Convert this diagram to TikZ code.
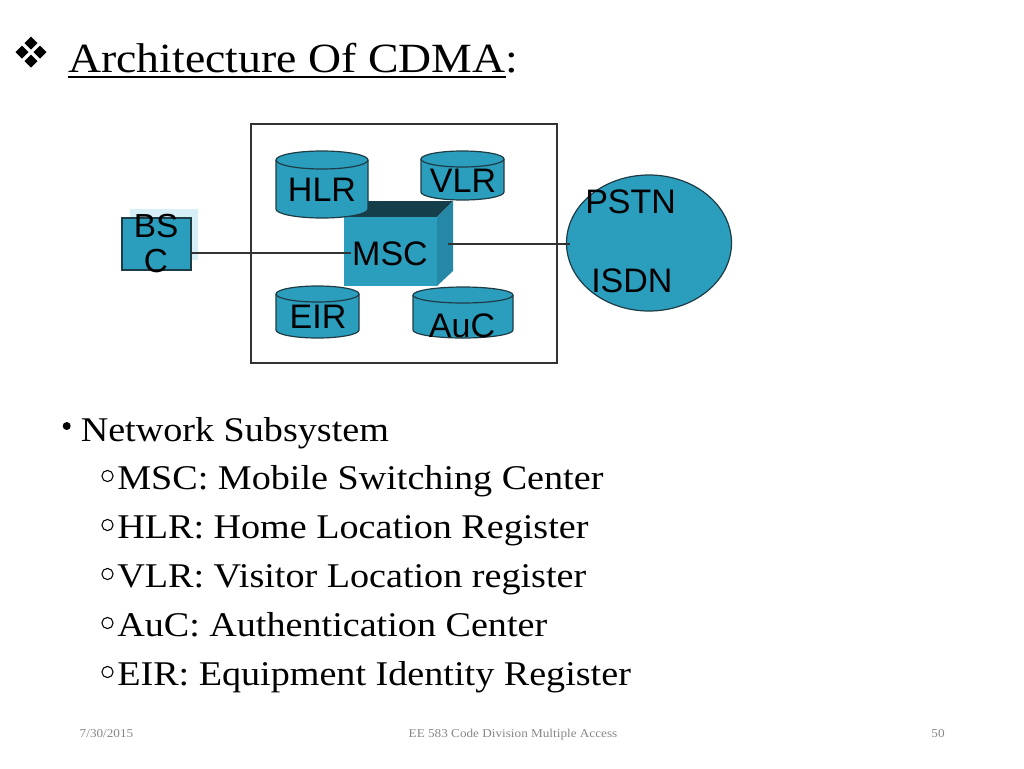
\documentclass[tikz,border=0pt]{standalone}
\usepackage{fontspec}
\setmainfont{Liberation Serif}
\newfontfamily\tfont[FakeStretch=1.1]{Liberation Serif}
\newfontfamily\afont{Liberation Sans}
\usetikzlibrary{shapes.geometric}
\definecolor{teal1}{RGB}{43,158,190}
\definecolor{tealside}{RGB}{36,136,166}
\definecolor{tealtop}{RGB}{20,62,74}
\definecolor{edge}{RGB}{30,60,70}
\definecolor{hl}{RGB}{214,238,246}
\definecolor{footgray}{RGB}{135,135,135}
\begin{document}
\begin{tikzpicture}[x=0.75pt,y=-0.75pt,
  lbl/.style={font=\afont\fontsize{25.5}{29}\selectfont, inner sep=0pt, anchor=base},
  body/.style={font=\tfont\fontsize{26}{30}\selectfont, inner sep=0pt, anchor=base west},
  foot/.style={font=\tfont\fontsize{9}{11}\selectfont, text=footgray, inner sep=0pt, anchor=base},
  cyl/.style={fill=teal1, draw=edge, line width=0.9pt},
  conn/.style={draw=black!80, line width=0.8pt},
  frame/.style={draw=black!80, line width=0.8pt}]
\useasboundingbox (0,0) rectangle (1024,768);
\fill[white] (0,0) rectangle (1024,768);

% title
\foreach \dx/\dy in {0/-9,-9/0,9/0,0/9}
  \fill (31+\dx,52+\dy) +(0,-6.5) -- +(6.5,0) -- +(0,6.5) -- +(-6.5,0) -- cycle;
\node[font=\tfont\fontsize{31.2}{36}\selectfont, inner sep=0pt, anchor=base west] (title) at (68,72) {Architecture Of CDMA};
\node[font=\tfont\fontsize{31.2}{36}\selectfont, inner sep=0pt, anchor=base west] (colon) at (title.base east) {:};
\draw[line width=1.5pt] ([yshift=-3.5pt]title.base west) -- ([yshift=-3.5pt]title.base east);

% network subsystem frame
\node[frame, minimum width=306*0.75pt, minimum height=239*0.75pt, inner sep=0pt] (nss) at (404,243.5) {};

% BSC
\fill[hl] (130,209) rectangle (198,260);
\node[fill=teal1, draw=edge, line width=0.9pt, minimum width=69*0.75pt, minimum height=52*0.75pt, inner sep=0pt] (bsc) at (156.5,244) {};

% MSC cube
\fill[tealtop] (344,217) -- (437,217) -- (453,201) -- (360,201) -- cycle;
\fill[tealside] (437,217) -- (453,201) -- (453,271) -- (437,286) -- cycle;
\fill[teal1] (344,217) rectangle (437,286);

% cylinders
\filldraw[cyl] (276,160) -- (276,209) arc[start angle=180,end angle=0,x radius=46,y radius=9] -- (368,160) arc[start angle=0,end angle=-180,x radius=46,y radius=9] -- cycle;
\draw[edge, line width=0.9pt] (276,160) arc[start angle=180,end angle=0,x radius=46,y radius=9];

\filldraw[cyl] (421,159) -- (421,192) arc[start angle=180,end angle=0,x radius=41.5,y radius=8] -- (504,159) arc[start angle=0,end angle=-180,x radius=41.5,y radius=8] -- cycle;
\draw[edge, line width=0.9pt] (421,159) arc[start angle=180,end angle=0,x radius=41.5,y radius=8];

\filldraw[cyl] (276,294) -- (276,330) arc[start angle=180,end angle=0,x radius=41.5,y radius=8] -- (359,294) arc[start angle=0,end angle=-180,x radius=41.5,y radius=8] -- cycle;
\draw[edge, line width=0.9pt] (276,294) arc[start angle=180,end angle=0,x radius=41.5,y radius=8];

\filldraw[cyl] (413,295) -- (413,330) arc[start angle=180,end angle=0,x radius=50,y radius=8] -- (513,295) arc[start angle=0,end angle=-180,x radius=50,y radius=8] -- cycle;
\draw[edge, line width=0.9pt] (413,295) arc[start angle=180,end angle=0,x radius=50,y radius=8];

% PSTN / ISDN cloud
\node[ellipse, fill=teal1, draw=edge, line width=0.9pt, minimum width=165*0.75pt, minimum height=136*0.75pt, inner sep=0pt] (net) at (649,243) {};

% connectors
\coordinate (mscW) at (351,253);
\coordinate (mscE) at (448,244);
\draw[conn] (bsc.east |- mscW) -- (mscW);
\draw[conn, shorten >=-3pt] (mscE) -- (mscE -| net.west);

% labels
\node[lbl, anchor=center, align=center, font=\afont\fontsize{25}{26.25}\selectfont] (bscL) at (156,244) {BS\\C};
\node[lbl] (hlrL) at (322,201) {HLR};
\node[lbl] (vlrL) at (463,192) {VLR};
\node[lbl] (eirL) at (318,328) {EIR};
\node[lbl] (aucL) at (462,337) {AuC};
\node[lbl] (mscL) at (390,265) {MSC};
\node[lbl, anchor=base west] (pstn) at (585,213) {PSTN};
\node[lbl, anchor=base west] (isdn) at (591,292) {ISDN};

% bullet list
\fill (66.7,426) circle[radius=4];
\node[body] (ns) at (80.5,441) {Network Subsystem};
\foreach \i/\t in {0/{MSC: Mobile Switching Center},1/{HLR: Home Location Register},2/{VLR: Visitor Location register},3/{AuC: Authentication Center},4/{EIR: Equipment Identity Register}}{
  \draw[line width=0.8pt] (107.5,476+49*\i) circle[radius=5.6];
  \node[body] (item\i) at (117,489+49*\i) {\t};
}

% footer
\node[foot] (date) at (106.5,737) {7/30/2015};
\node[foot] (course) at (513,737) {EE 583 Code Division Multiple Access};
\node[foot] (page) at (938,737) {50};
\end{tikzpicture}
\end{document}
